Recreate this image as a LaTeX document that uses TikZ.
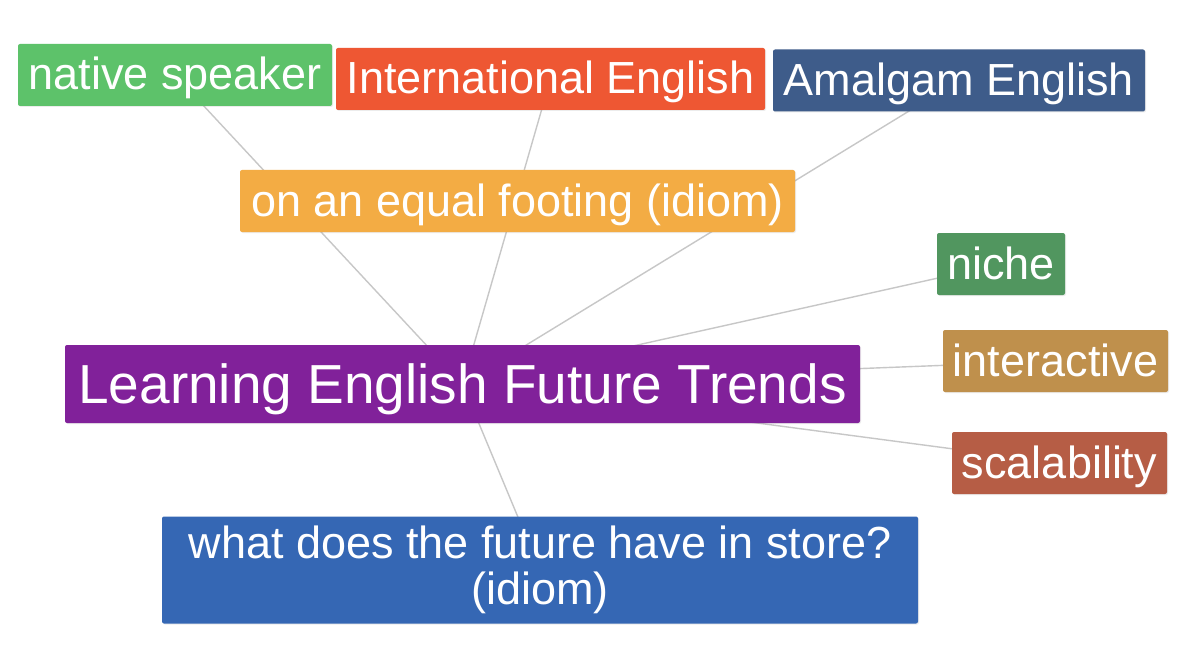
\documentclass[tikz,border=0pt]{standalone}
\usepackage{fontspec}
\setmainfont{Liberation Sans}
\usepackage{tikz}
\usetikzlibrary{shapes,backgrounds,shadows}
\definecolor{nsgreen}{HTML}{5DC26A}
\definecolor{intlred}{HTML}{EE5733}
\definecolor{amalblue}{HTML}{3E5C8A}
\definecolor{footorange}{HTML}{F3AC44}
\definecolor{nichegreen}{HTML}{51965F}
\definecolor{interbrown}{HTML}{BF904C}
\definecolor{scalered}{HTML}{B65D45}
\definecolor{hubpurple}{HTML}{81219A}
\definecolor{storeblue}{HTML}{3567B4}
\tikzstyle{leaf}=[rectangle, rounded corners=2pt, inner sep=0pt,% a flat coloured box
text=white, minimum height=62pt, text height=33pt, text depth=3pt,
font=\fontsize{45}{50}\selectfont,
drop shadow={opacity=0.15,shadow xshift=1pt,shadow yshift=-1pt}]
\tikzstyle{hub}=[leaf, minimum height=78pt, text height=40pt, text depth=1pt,
font=\fontsize{55}{62}\selectfont]
\tikzstyle{tie}=[draw=black!22, line width=1.4pt]

\begin{document}
\begin{tikzpicture}[x=1pt,y=-1pt]
\useasboundingbox (0,0) rectangle (1200,658);
\node[hub, fill=hubpurple, minimum width=795pt] (trends) at (462.5,384) {Learning English Future Trends};
\node[leaf, fill=nsgreen, minimum width=314pt] (native) at (175,75) {native speaker};
\node[leaf, fill=intlred, minimum width=429pt] (intl) at (550.5,79) {International English};
\node[leaf, fill=amalblue, minimum width=372pt] (amalgam) at (959,80.5) {Amalgam English};
\node[leaf, fill=footorange, minimum width=555pt] (footing) at (517.5,201) {on an equal footing (idiom)};
\node[leaf, fill=nichegreen, minimum width=128pt] (niche) at (1001,264) {niche};
\node[leaf, fill=interbrown, minimum width=225pt] (inter) at (1055.5,361) {interactive};
\node[leaf, fill=scalered, minimum width=215pt] (scale) at (1059.5,463) {scalability};
\node[leaf, fill=storeblue, minimum width=756pt, minimum height=107pt, align=center,
  text height=, text depth=, font=\fontsize{45}{46}\selectfont] (store) at (540,570) {what does the future have in store?\\(idiom)};
\begin{pgfonlayer}{background}
\fill[white] (0,0) rectangle (1200,658);
\draw[tie] (trends.center) -- (native.center);
\draw[tie] (trends.center) -- (intl.center);
\draw[tie] (trends.center) -- (amalgam.center);
\draw[tie] (trends.center) -- (niche.center);
\draw[tie] (trends.center) -- (inter.center);
\draw[tie] (trends.center) -- (scale.center);
\draw[tie] (trends.center) -- (store.center);
\end{pgfonlayer}
\end{tikzpicture}
\end{document}
